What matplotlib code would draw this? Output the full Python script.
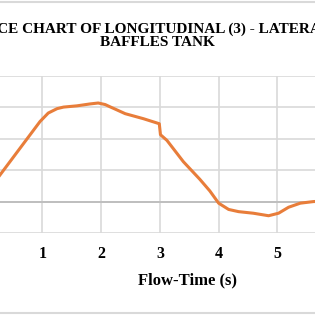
import matplotlib.pyplot as plt
from matplotlib.lines import Line2D

# Values (force in grid units, y tick labels are cropped off)
flow_time = [0.24, 0.28, 0.62, 0.96, 1.10, 1.25, 1.36, 1.59, 1.81, 1.95, 2.07,
             2.15, 2.21, 2.41, 2.72, 2.99, 3.01, 3.12, 3.40, 3.68, 3.85, 4.00,
             4.17, 4.34, 4.59, 4.85, 5.02, 5.19, 5.39, 5.61, 5.70]
force = [0.75, 0.85, 1.70, 2.55, 2.82, 2.96, 3.01, 3.05, 3.11, 3.14, 3.09,
         3.02, 2.97, 2.80, 2.64, 2.48, 2.13, 1.95, 1.27, 0.71, 0.34, -0.05,
         -0.25, -0.32, -0.37, -0.45, -0.37, -0.18, -0.05, 0.00, 0.01]
x_ticks = [1, 2, 3, 4, 5]
y_grid = [-1, 0, 1, 2, 3, 4]

fig = plt.figure(figsize=(3.15, 3.15), dpi=100)
fig.patch.set_facecolor("white")

# plot area is cropped on the left and right in the reference
ax = fig.add_axes([0.0, 1 - 233 / 315, 1.0, (233 - 76) / 315])
ax.set_xlim(0.279, 5.64)
ax.set_ylim(-1, 4)

for yv in y_grid:
    ax.axhline(yv, color="#d9d9d9", lw=1.2, zorder=1)
for xv in x_ticks:
    ax.axvline(xv, color="#d9d9d9", lw=1.2, zorder=1)
ax.axhline(0, color="#bfbfbf", lw=1.4, zorder=1.5)

ax.plot(flow_time, force, color="#e87d3a", lw=2.2, zorder=3,
        solid_capstyle="round", solid_joinstyle="round")

for s in ax.spines.values():
    s.set_visible(False)
ax.set_yticks([])
ax.set_xticks(x_ticks)
ax.set_xticklabels([str(v) for v in x_ticks], fontfamily="Liberation Serif",
                   fontweight="bold", fontsize=11.5)
ax.tick_params(axis="x", length=0, pad=9)

fig.text(188 / 315, 1 - 280 / 315, "Flow-Time (s)", ha="center", va="center",
         fontfamily="Liberation Serif", fontweight="bold", fontsize=12)

fig.text(148 / 315, 1 - 33 / 315, "FORCE CHART OF LONGITUDINAL (3) - LATERAL",
         ha="center", va="baseline", fontfamily="Liberation Serif",
         fontweight="bold", fontsize=11)
fig.text(157 / 315, 1 - 46 / 315, "BAFFLES TANK",
         ha="center", va="baseline", fontfamily="Liberation Serif",
         fontweight="bold", fontsize=11)

# outer chart frame lines visible at top and bottom
fig.add_artist(Line2D([0, 1], [1 - 1.5 / 315] * 2, color="#d9d9d9", lw=1.5))
fig.add_artist(Line2D([0, 1], [1 - 313 / 315] * 2, color="#d9d9d9", lw=1.5))

fig.savefig("out.png", dpi=100, facecolor="white")
